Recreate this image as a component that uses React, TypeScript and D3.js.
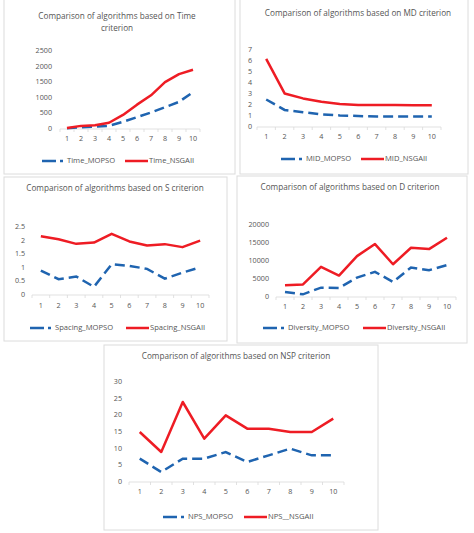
import React from 'react';
import * as d3 from 'd3';

// Categories (runs)
const runs = ['1', '2', '3', '4', '5', '6', '7', '8', '9', '10'];

// Time criterion
const timeMopso = [20, 55, 80, 100, 230, 380, 530, 700, 870, 1180];
const timeNsga = [30, 100, 120, 200, 450, 780, 1080, 1500, 1760, 1900];
const timeTicks = [0, 500, 1000, 1500, 2000, 2500];

// MD criterion
const mdMopso = [2.5, 1.55, 1.35, 1.15, 1.05, 1.0, 0.95, 0.95, 0.95, 0.95];
const mdNsga = [6.2, 3.05, 2.6, 2.3, 2.1, 2.0, 2.0, 2.0, 1.98, 1.97];
const mdTicks = [0, 1, 2, 3, 4, 5, 6, 7];

// S criterion
const spacingMopso = [0.9, 0.58, 0.68, 0.3, 1.13, 1.07, 0.96, 0.6, 0.82, 1.02];
const spacingNsga = [2.16, 2.05, 1.88, 1.93, 2.25, 1.97, 1.82, 1.87, 1.76, 2.0];
const spacingTicks = [0, 0.5, 1, 1.5, 2, 2.5];

// D criterion
const diversityMopso = [1400, 750, 2600, 2500, 5400, 7000, 4200, 8200, 7450, 8850];
const diversityNsga = [3250, 3500, 8370, 5950, 11350, 14700, 9100, 13670, 13300, 16460];
const diversityTicks = [0, 5000, 10000, 15000, 20000];

// NSP criterion
const npsMopso = [7, 3, 7, 7, 9, 6, 8, 10, 8, 8];
const npsNsga = [15, 9, 24, 13, 20, 16, 16, 15, 15, 19];
const npsTicks = [0, 5, 10, 15, 20, 25, 30];

const BLUE = '#1f64b0';
const RED = '#ee1c24';
const TEXT = '#555';
const FONT = '"Open Sans", "Liberation Sans", sans-serif';
const DASH = '10,5';

interface PanelProps {
  box: [number, number, number, number]; // x, y, w, h
  title: string[];
  titleX: number;
  titleY: number;
  xRange: [number, number];
  yRange: [number, number]; // bottom, top (pixels)
  labelRight: number;
  xLabelY: number;
  ticks: number[];
  blue: number[];
  red: number[];
  names: [string, string];
  legendY: number;
  legendX: [number, number];
}

function Panel(p: PanelProps) {
  const x = d3.scaleBand<string>().domain(runs).range(p.xRange);
  const y = d3
    .scaleLinear()
    .domain([0, p.ticks[p.ticks.length - 1]])
    .range(p.yRange);
  const cx = (i: number) => (x(runs[i]) ?? 0) + x.bandwidth() / 2;
  const line = d3
    .line<number>()
    .x((_d, i) => cx(i))
    .y((d) => y(d));
  const base = y(0);
  const boundaries = runs.map((r) => x(r) ?? 0).concat([p.xRange[1]]);

  return (
    <g fontFamily={FONT}>
      <rect
        x={p.box[0]}
        y={p.box[1]}
        width={p.box[2]}
        height={p.box[3]}
        fill="#fff"
        stroke="#dcdcdc"
        strokeWidth={1}
      />
      {p.title.map((t, i) => (
        <text
          key={i}
          x={p.titleX}
          y={p.titleY + i * 11.5}
          textAnchor="middle"
          dominantBaseline="middle"
          fontSize={8.2}
          fill={TEXT}
        >
          {t}
        </text>
      ))}
      {/* y tick labels */}
      {p.ticks.map((t) => (
        <text
          key={t}
          x={p.labelRight}
          y={y(t)}
          textAnchor="end"
          dominantBaseline="middle"
          fontSize={7.2}
          fill={TEXT}
        >
          {t}
        </text>
      ))}
      {/* category axis */}
      <line x1={p.xRange[0]} x2={p.xRange[1]} y1={base} y2={base} stroke="#d9d9d9" strokeWidth={0.8} />
      {boundaries.map((b, i) => (
        <line key={i} x1={b} x2={b} y1={base} y2={base + 3} stroke="#d9d9d9" strokeWidth={0.8} />
      ))}
      {runs.map((r, i) => (
        <text
          key={r}
          x={cx(i)}
          y={p.xLabelY}
          textAnchor="middle"
          dominantBaseline="middle"
          fontSize={7.2}
          fill={TEXT}
        >
          {r}
        </text>
      ))}
      {/* series */}
      <path d={line(p.blue) ?? ''} fill="none" stroke={BLUE} strokeWidth={2.5} strokeDasharray={DASH} />
      <path d={line(p.red) ?? ''} fill="none" stroke={RED} strokeWidth={2.5} strokeLinejoin="round" />
      {/* legend */}
      <line
        x1={p.legendX[0]}
        x2={p.legendX[0] + 21}
        y1={p.legendY}
        y2={p.legendY}
        stroke={BLUE}
        strokeWidth={2.5}
        strokeDasharray="14,4"
      />
      <text x={p.legendX[0] + 25} y={p.legendY} dominantBaseline="middle" fontSize={7.6} fill={TEXT}>
        {p.names[0]}
      </text>
      <line
        x1={p.legendX[1]}
        x2={p.legendX[1] + 23}
        y1={p.legendY}
        y2={p.legendY}
        stroke={RED}
        strokeWidth={2.5}
      />
      <text x={p.legendX[1] + 24} y={p.legendY} dominantBaseline="middle" fontSize={7.6} fill={TEXT}>
        {p.names[1]}
      </text>
    </g>
  );
}

export default function App() {
  return (
    <div style={{ position: 'absolute', left: 0, top: 0 }}>
      <svg width={474} height={533} style={{ display: 'block', background: '#fff' }}>
        <Panel
          box={[4, -1, 231, 175]}
          title={['Comparison of algorithms based on Time', 'criterion']}
          titleX={117}
          titleY={17}
          xRange={[60, 200]}
          yRange={[129, 51]}
          labelRight={52}
          xLabelY={139}
          ticks={timeTicks}
          blue={timeMopso}
          red={timeNsga}
          names={['Time_MOPSO', 'Time_NSGAII']}
          legendY={161}
          legendX={[42, 125]}
        />
        <Panel
          box={[240, -1, 228, 175]}
          title={['Comparison of algorithms based on MD criterion']}
          titleX={358}
          titleY={14}
          xRange={[257, 441]}
          yRange={[127, 50]}
          labelRight={252}
          xLabelY={137}
          ticks={mdTicks}
          blue={mdMopso}
          red={mdNsga}
          names={['MID_MOPSO', 'MID_NSGAII']}
          legendY={159}
          legendX={[281, 361]}
        />
        <Panel
          box={[4, 177, 223, 164]}
          title={['Comparison of algorithms based on S criterion']}
          titleX={115}
          titleY={189}
          xRange={[32, 209]}
          yRange={[295, 227]}
          labelRight={25}
          xLabelY={306}
          ticks={spacingTicks}
          blue={spacingMopso}
          red={spacingNsga}
          names={['Spacing_MOPSO', 'Spacing_NSGAII']}
          legendY={328}
          legendX={[30, 126]}
        />
        <Panel
          box={[237, 176, 230, 167]}
          title={['Comparison of algorithms based on D criterion']}
          titleX={350}
          titleY={188}
          xRange={[276, 456]}
          yRange={[297, 225]}
          labelRight={269}
          xLabelY={307}
          ticks={diversityTicks}
          blue={diversityMopso}
          red={diversityNsga}
          names={['Diversity_MOPSO', 'Diversity_NSGAII']}
          legendY={328}
          legendX={[263, 363]}
        />
        <Panel
          box={[104, 345, 274, 185]}
          title={['Comparison of algorithms based on NSP criterion']}
          titleX={236}
          titleY={357}
          xRange={[129, 344]}
          yRange={[482, 382]}
          labelRight={122}
          xLabelY={492}
          ticks={npsTicks}
          blue={npsMopso}
          red={npsNsga}
          names={['NPS_MOPSO', 'NPS__NSGAII']}
          legendY={517}
          legendX={[163, 244]}
        />
      </svg>
    </div>
  );
}
